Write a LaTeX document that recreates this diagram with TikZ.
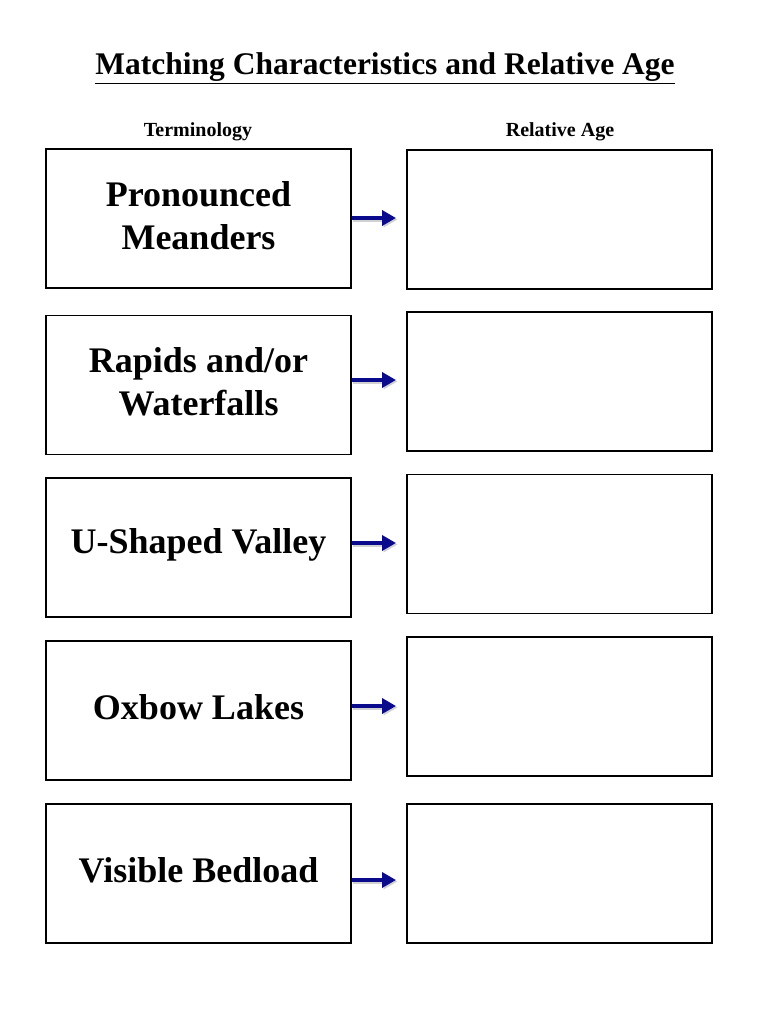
\documentclass[tikz,border=0pt]{standalone}
\usepackage{fontspec}
\setmainfont{Liberation Serif}
\usetikzlibrary{arrows.meta}
\definecolor{arrowblue}{RGB}{10,10,140}
\tikzset{
  termbox/.style={draw=black, line width=1.8pt, minimum width=305pt, minimum height=139pt, inner sep=0pt},
  termtext/.style={align=center, font=\fontsize{36}{43}\selectfont\bfseries},
  agebox/.style={draw=black, line width=1.8pt, minimum width=305pt, minimum height=139pt, inner sep=0pt},
  link/.style={draw=arrowblue, line width=4.5pt, -{Triangle[length=14pt,width=15pt]}},
  linkshade/.style={draw=black!18, line width=4.5pt, -{Triangle[length=14pt,width=15pt]}},
  header/.style={font=\fontsize{20}{24}\selectfont\bfseries}
}
\begin{document}
\begin{tikzpicture}[x=1pt,y=-1pt]
\useasboundingbox (0,0) rectangle (768,1024);
\node (title) at (385,68) {\fontsize{31.5}{36}\selectfont\bfseries\underline{Matching Characteristics and Relative Age}};
\node[header] (hterm) at (198,132) {Terminology};
\node[header] (hage) at (560,132) {Relative Age};
\node[termbox] (t1) at (198.5,218.5) {};
\node[termbox] (t2) at (198.5,385) {};
\node[termbox] (t3) at (198.5,547.5) {};
\node[termbox] (t4) at (198.5,710.5) {};
\node[termbox] (t5) at (198.5,873.5) {};
\node[termtext] (l1) at ([yshift=3]t1.center) {Pronounced\\Meanders};
\node[termtext] (l2) at ([yshift=3]t2.center) {Rapids and/or\\Waterfalls};
\node[termtext] (l3) at ([yshift=3]t3.center) {U-Shaped Valley};
\node[termtext] (l4) at ([yshift=3]t4.center) {Oxbow Lakes};
\node[termtext] (l5) at ([yshift=3]t5.center) {Visible Bedload};
\node[agebox] (a1) at (559.5,219.5) {};
\node[agebox] (a2) at (559.5,381.5) {};
\node[agebox] (a3) at (559.5,544) {};
\node[agebox] (a4) at (559.5,706.5) {};
\node[agebox] (a5) at (559.5,873.5) {};
\coordinate (e1) at (396,218);
\coordinate (e2) at (396,380);
\coordinate (e3) at (396,543);
\coordinate (e4) at (396,706);
\coordinate (e5) at (396,880);
\foreach \i/\y in {1/218,2/380,3/543,4/706,5/880}{
  \draw[linkshade] ([shift={(1.5,1.5)}]t\i.east |- 0,\y) -- ([shift={(1.5,1.5)}]e\i);
  \draw[link] (t\i.east |- 0,\y) -- (e\i);
}
\end{tikzpicture}
\end{document}
